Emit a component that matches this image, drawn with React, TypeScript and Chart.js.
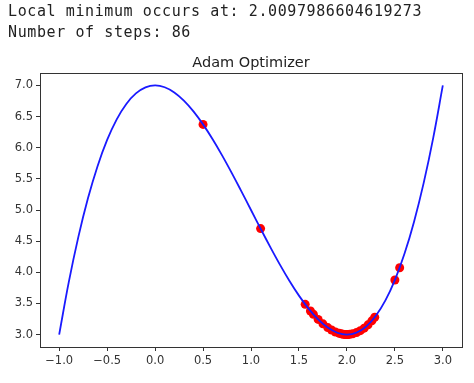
import React, { useEffect, useRef } from "react";
import { Chart, registerables } from "chart.js";

Chart.register(...registerables);

const headerLines = ["Local minimum occurs at: 2.0097986604619273", "Number of steps: 86"];
const titleText = "Adam Optimizer";

// curve samples
const curveX = [-1.0, -0.9, -0.8, -0.7, -0.6, -0.5, -0.4, -0.3, -0.2, -0.1, 0.0, 0.1, 0.2, 0.3, 0.4, 0.5, 0.6, 0.7, 0.8, 0.9, 1.0, 1.1, 1.2, 1.3, 1.4, 1.5, 1.6, 1.7, 1.8, 1.9, 2.0, 2.1, 2.2, 2.3, 2.4, 2.5, 2.6, 2.7, 2.8, 2.9, 3.0];
const curveY = [3.0, 3.841, 4.568, 5.187, 5.704, 6.125, 6.456, 6.703, 6.872, 6.969, 7.0, 6.971, 6.888, 6.757, 6.584, 6.375, 6.136, 5.873, 5.592, 5.299, 5.0, 4.701, 4.408, 4.127, 3.864, 3.625, 3.416, 3.243, 3.112, 3.029, 3.0, 3.031, 3.128, 3.297, 3.544, 3.875, 4.296, 4.813, 5.432, 6.159, 7.0];

// optimizer steps (red points)
const stepX = [0.5, 1.1, 1.565, 1.62, 1.65, 1.70, 1.75, 1.80, 1.84, 1.88, 1.92, 1.94, 1.96, 1.98, 2.0, 2.01, 2.03, 2.06, 2.10, 2.14, 2.18, 2.22, 2.26, 2.29, 2.50, 2.55];
const stepY = [6.375, 4.701, 3.485, 3.378, 3.325, 3.243, 3.172, 3.112, 3.073, 3.041, 3.019, 3.011, 3.005, 3.001, 3.0, 3.0, 3.003, 3.011, 3.031, 3.062, 3.103, 3.156, 3.220, 3.277, 3.875, 4.073];

const xTicks = [-1.0, -0.5, 0.0, 0.5, 1.0, 1.5, 2.0, 2.5, 3.0];
const xTickLabels = ["\u22121.0", "\u22120.5", "0.0", "0.5", "1.0", "1.5", "2.0", "2.5", "3.0"];
const yTicks = [3.0, 3.5, 4.0, 4.5, 5.0, 5.5, 6.0, 6.5, 7.0];
const yTickLabels = ["3.0", "3.5", "4.0", "4.5", "5.0", "5.5", "6.0", "6.5", "7.0"];

const W = 474;
const H = 383;
const AXIS = "#333333";

export default function App() {
  const ref = useRef<HTMLCanvasElement>(null);

  useEffect(() => {
    if (!ref.current) return;
    const framePlugin = {
      id: "frame",
      afterDraw(chart: any) {
        const { ctx, chartArea } = chart;
        ctx.save();
        ctx.strokeStyle = AXIS;
        ctx.lineWidth = 1;
        ctx.strokeRect(
          Math.round(chartArea.left) + 0.5,
          Math.round(chartArea.top) + 0.5,
          Math.round(chartArea.right - chartArea.left),
          Math.round(chartArea.bottom - chartArea.top)
        );
        ctx.fillStyle = "#222";
        ctx.font = "14.5px 'DejaVu Sans'";
        ctx.textAlign = "center";
        ctx.textBaseline = "alphabetic";
        ctx.fillText(titleText, (chartArea.left + chartArea.right) / 2, 67);
        ctx.restore();
      },
    };
    const chart = new Chart(ref.current, {
      type: "line",
      data: {
        datasets: [
          {
            type: "line",
            data: curveX.map((x, i) => ({ x, y: curveY[i] })),
            borderColor: "#1a1aff",
            borderWidth: 1.8,
            pointRadius: 0,
            tension: 0.4,
            fill: false,
          },
          {
            type: "scatter",
            data: stepX.map((x, i) => ({ x, y: stepY[i] })),
            backgroundColor: "#ff0000",
            borderColor: "#ff0000",
            pointRadius: 4.5,
            borderWidth: 0,
            showLine: false,
          } as any,
        ],
      },
      plugins: [framePlugin],
      options: {
        responsive: false,
        animation: false,
        layout: { padding: { top: 73, right: 12, left: 0, bottom: 0 } },
        plugins: { legend: { display: false }, tooltip: { enabled: false }, title: { display: false } },
        scales: {
          x: {
            type: "linear",
            min: -1.2,
            max: 3.2,
            afterBuildTicks: (s: any) => {
              s.ticks = xTicks.map((v) => ({ value: v }));
            },
            afterFit: (s: any) => {
              s.height = 36;
            },
            ticks: {
              autoSkip: false,
              maxRotation: 0,
              padding: 3,
              color: "#333",
              font: { family: "'DejaVu Sans'", size: 11.5 },
              callback: (v: any) => {
                const i = xTicks.findIndex((t) => Math.abs(t - v) < 1e-6);
                return i >= 0 ? xTickLabels[i] : "";
              },
            },
            grid: { drawOnChartArea: false, drawTicks: true, tickLength: 4, color: AXIS },
            border: { display: true, color: AXIS },
          },
          y: {
            type: "linear",
            min: 2.8,
            max: 7.2,
            afterBuildTicks: (s: any) => {
              s.ticks = yTicks.map((v) => ({ value: v }));
            },
            afterFit: (s: any) => {
              s.width = 40;
            },
            ticks: {
              autoSkip: false,
              padding: 3,
              color: "#333",
              font: { family: "'DejaVu Sans'", size: 11.5 },
              callback: (v: any) => {
                const i = yTicks.findIndex((t) => Math.abs(t - v) < 1e-6);
                return i >= 0 ? yTickLabels[i] : "";
              },
            },
            grid: { drawOnChartArea: false, drawTicks: true, tickLength: 4, color: AXIS },
            border: { display: true, color: AXIS },
          },
        },
      },
    });
    return () => chart.destroy();
  }, []);

  return (
    <div style={{ position: "fixed", left: 0, top: 0, width: W, height: H, background: "#fff" }}>
      <canvas ref={ref} width={W} height={H} style={{ position: "absolute", left: 0, top: 0, width: W, height: H }} />
      <div
        style={{
          position: "absolute",
          left: 8,
          top: 1,
          fontFamily: "'DejaVu Sans Mono', monospace",
          fontSize: 15,
          letterSpacing: "0.6px",
          lineHeight: "21px",
          color: "#222",
          whiteSpace: "pre",
        }}
      >
        {headerLines.map((l, i) => (
          <div key={i}>{l}</div>
        ))}
      </div>
    </div>
  );
}
